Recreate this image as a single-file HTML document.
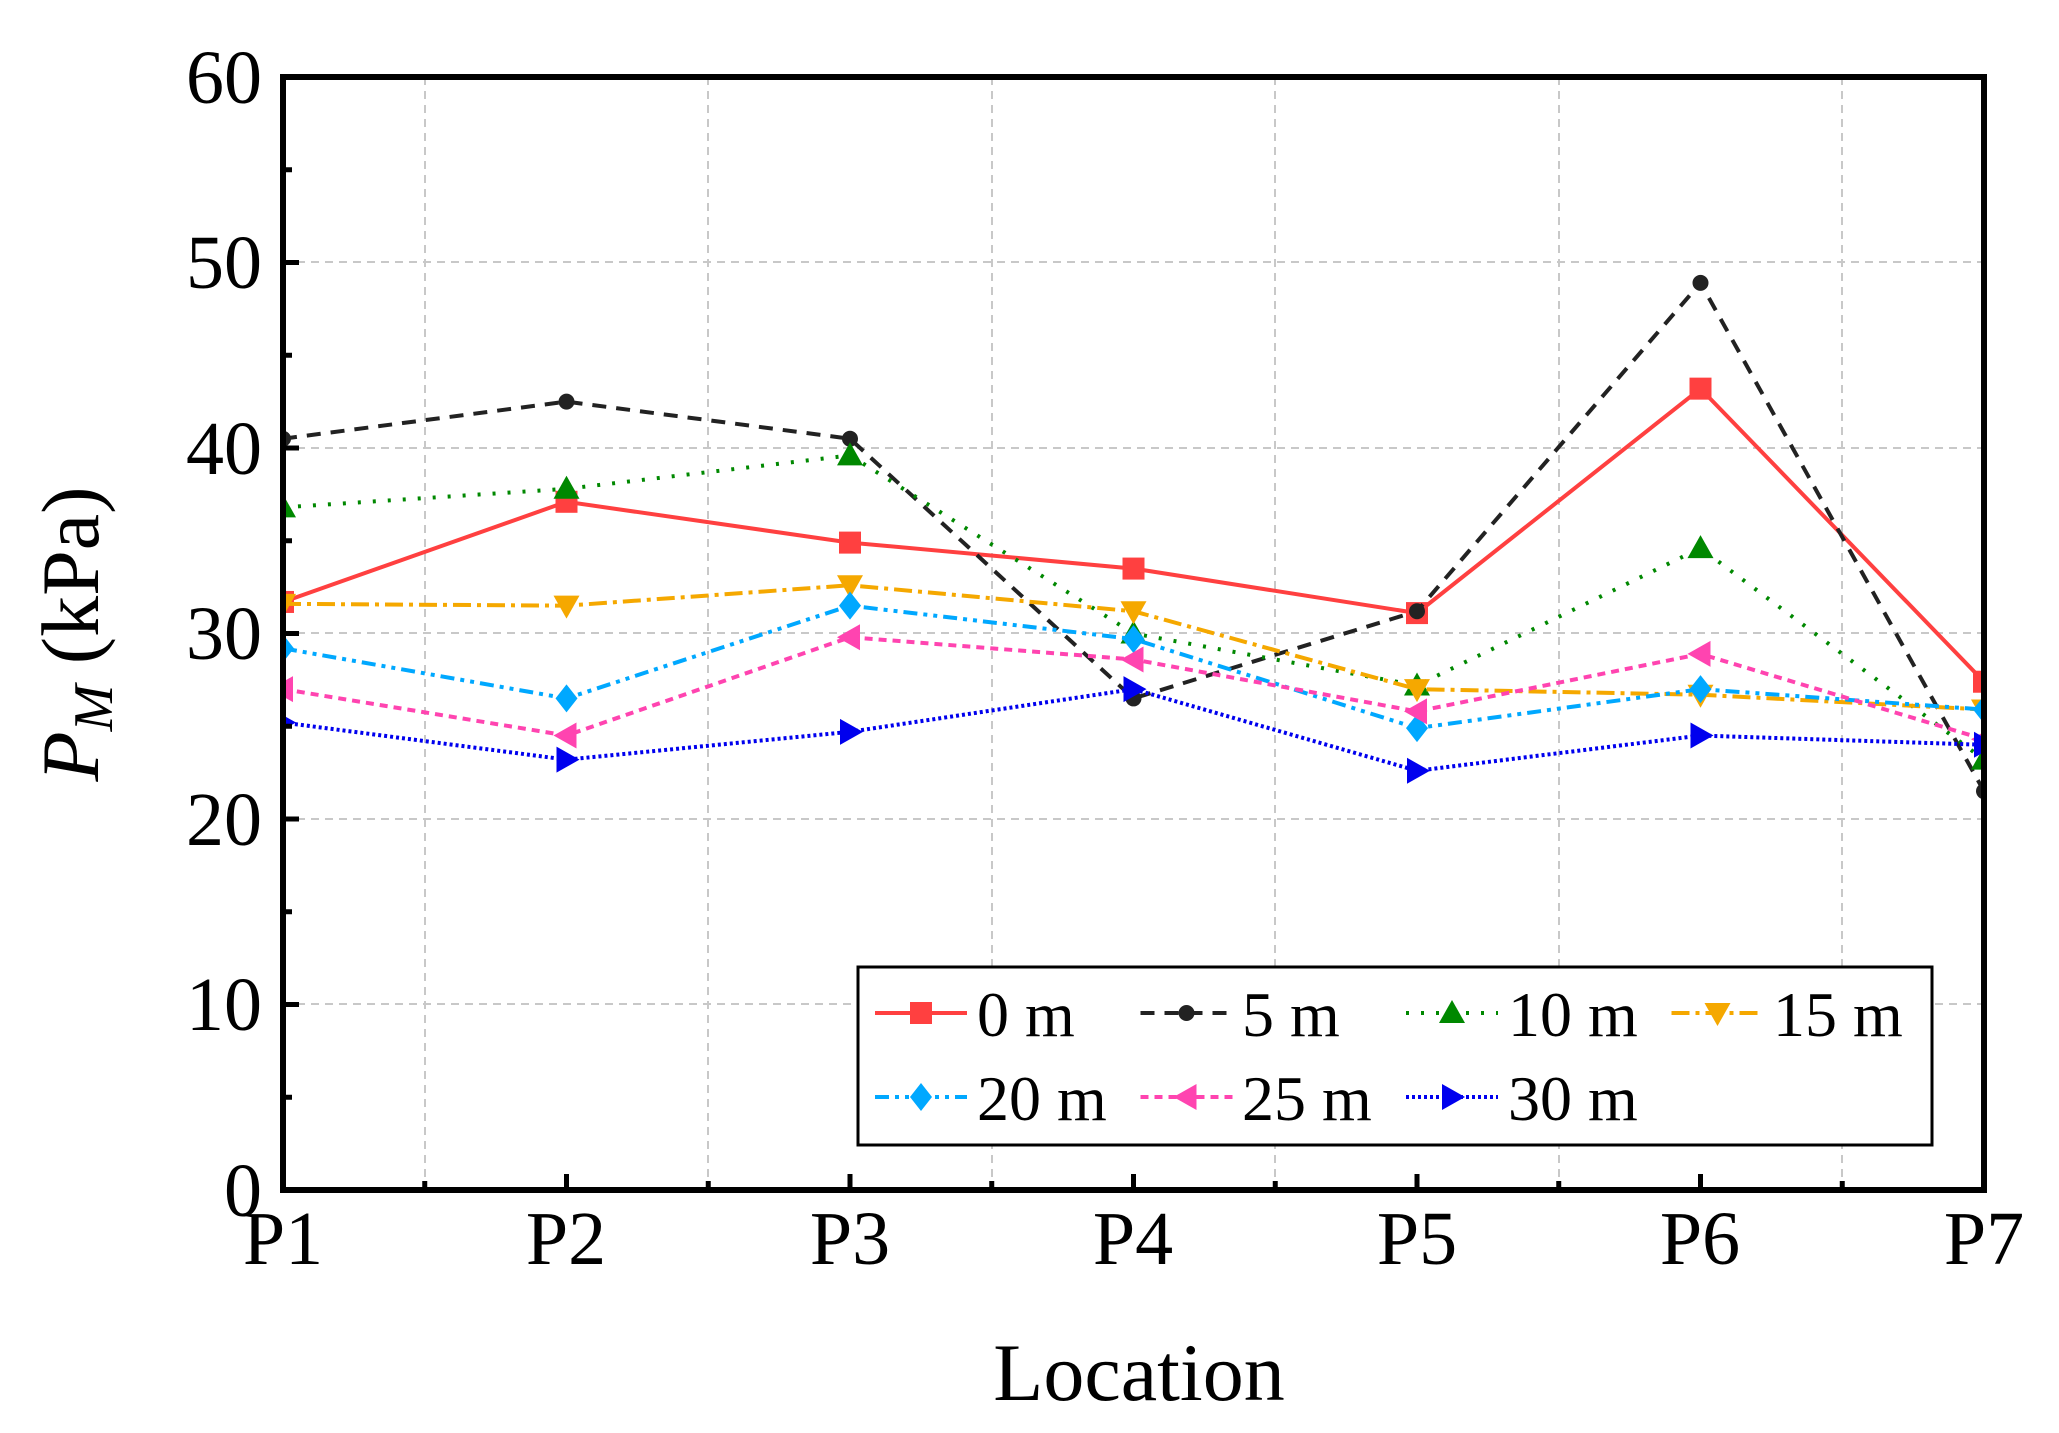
<!DOCTYPE html>
<html><head><meta charset="utf-8"><style>
html,body{margin:0;padding:0;background:#fff}
svg{display:block}
text{font-family:"Liberation Serif","Times New Roman",Times,serif;fill:#000}
</style></head><body>
<svg width="2059" height="1433" viewBox="0 0 2059 1433" xmlns="http://www.w3.org/2000/svg">
<defs>
<clipPath id="c"><rect x="283" y="77" width="1701" height="1113"/></clipPath>
</defs>
<g stroke="#c8c8c8" stroke-width="2" stroke-dasharray="8,6" fill="none">
<line x1="283" x2="1984" y1="262" y2="262"/>
<line x1="283" x2="1984" y1="448" y2="448"/>
<line x1="283" x2="1984" y1="633" y2="633"/>
<line x1="283" x2="1984" y1="819" y2="819"/>
<line x1="283" x2="1984" y1="1004" y2="1004"/>
<line y1="77" y2="1190" x1="425" x2="425"/>
<line y1="77" y2="1190" x1="708" x2="708"/>
<line y1="77" y2="1190" x1="992" x2="992"/>
<line y1="77" y2="1190" x1="1275" x2="1275"/>
<line y1="77" y2="1190" x1="1559" x2="1559"/>
<line y1="77" y2="1190" x1="1842" x2="1842"/>
</g>
<g id="series" clip-path="url(#c)"></g>
<rect x="283" y="77" width="1701" height="1113" fill="none" stroke="#000" stroke-width="6"/>
<g id="ticks" stroke="#000" stroke-width="5"></g>
<g font-size="76" text-anchor="end">
<text x="262" y="103">60</text><text x="262" y="288">50</text><text x="262" y="474">40</text>
<text x="262" y="659">30</text><text x="262" y="845">20</text><text x="262" y="1030">10</text><text x="262" y="1216">0</text>
</g>
<g font-size="76" text-anchor="middle">
<text x="283" y="1264">P1</text><text x="566" y="1264">P2</text><text x="850" y="1264">P3</text>
<text x="1133" y="1264">P4</text><text x="1417" y="1264">P5</text><text x="1700" y="1264">P6</text><text x="1984" y="1264">P7</text>
</g>
<text x="1139" y="1400" font-size="82" text-anchor="middle">Location</text>
<text transform="translate(98,634) rotate(-90)" font-size="82" text-anchor="middle"><tspan font-style="italic">P</tspan><tspan font-style="italic" font-size="56" dy="14">M</tspan><tspan dy="-14"> (kPa)</tspan></text>
<rect x="858" y="967" width="1074" height="178" fill="#fff" stroke="#000" stroke-width="3"/>
<g id="legend"></g>
<g font-size="64">
<text x="977" y="1036">0 m</text><text x="1242" y="1036">5 m</text><text x="1508" y="1036">10 m</text><text x="1773" y="1036">15 m</text>
<text x="977" y="1120">20 m</text><text x="1242" y="1120">25 m</text><text x="1508" y="1120">30 m</text>
</g>
<script>
const X=i=>283+i*283.5, Y=v=>1190-v*18.55;
const S=[
["#ff4040","none",[31.7,37.1,34.9,33.5,31.1,43.2,27.4],"sq"],
["#222","14,10",[40.5,42.5,40.5,26.5,31.2,48.9,21.5],"ci"],
["#008800","3,12",[36.8,37.8,39.6,30.0,27.2,34.6,23.2],"tu"],
["#f5a800","18,6,4,6",[31.6,31.5,32.6,31.2,27.0,26.7,25.9],"td"],
["#00a8ff","14,6,4,6,4,6",[29.2,26.5,31.5,29.7,24.9,27.0,25.9],"di"],
["#ff44b0","8,6",[27.0,24.5,29.8,28.6,25.8,28.9,24.3],"tl"],
["#0000ee","3,3",[25.2,23.2,24.7,27.0,22.6,24.5,24.0],"tr"]];
const ns="http://www.w3.org/2000/svg";
function el(t,a,p){const e=document.createElementNS(ns,t);for(const k in a)e.setAttribute(k,a[k]);p.appendChild(e);return e;}
function mk(t,x,y,c,p){const s=11;
if(t=="sq")el("rect",{x:x-s,y:y-s,width:2*s,height:2*s,fill:c},p);
else if(t=="ci")el("circle",{cx:x,cy:y,r:8,fill:c},p);
else{let pts;
if(t=="tu")pts=[[x,y-13],[x-13,y+10],[x+13,y+10]];
if(t=="td")pts=[[x,y+13],[x-13,y-10],[x+13,y-10]];
if(t=="tl")pts=[[x-13,y],[x+10,y-13],[x+10,y+13]];
if(t=="tr")pts=[[x+13,y],[x-10,y-13],[x-10,y+13]];
if(t=="di")pts=[[x,y-14],[x-11,y],[x,y+14],[x+11,y]];
el("polygon",{points:pts.map(p=>p.join(",")).join(" "),fill:c},p);}}
const g=document.getElementById("series"),L=document.getElementById("legend");
S.forEach((s,k)=>{const a={fill:"none",stroke:s[0],"stroke-width":4,points:s[2].map((v,i)=>X(i)+","+Y(v)).join(" ")};
if(s[1]!="none")a["stroke-dasharray"]=s[1];el("polyline",a,g);
s[2].forEach((v,i)=>mk(s[3],X(i),Y(v),s[0],g));
const col=k%4,row=Math.floor(k/4);const x0=875+col*265.5,y0=row?1097:1013;
const b={x1:x0,x2:x0+92,y1:y0,y2:y0,stroke:s[0],"stroke-width":4};if(s[1]!="none")b["stroke-dasharray"]=s[1];
el("line",b,L);mk(s[3],x0+46,y0,s[0],L);});
const T=document.getElementById("ticks");
for(let v=5;v<60;v+=5){const y=Y(v);el("line",{x1:283,x2:283+(v%10?9:16),y1:y,y2:y},T);}
for(let i=0.5;i<6;i+=0.5){const x=X(i);el("line",{x1:x,x2:x,y1:1190,y2:1190-(i%1?9:16)},T);}
</script>
</svg>
</body></html>
